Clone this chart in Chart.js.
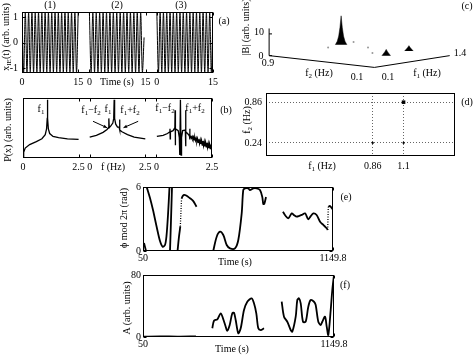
<!DOCTYPE html>
<html><head><meta charset="utf-8">
<script src="https://cdn.jsdelivr.net/npm/chart.js@4"></script>
<style>
html,body{margin:0;padding:0;background:#fff;}
#root{position:relative;width:474px;height:357px;overflow:hidden;font-family:"Liberation Serif","Times New Roman",serif;color:#000;}
canvas{position:absolute;}
.t{position:absolute;font-size:10px;line-height:1;white-space:nowrap;transform:translate(-50%,-50%);}
.v{transform:translate(-50%,-50%) rotate(-90deg);}
sub{font-size:7px;vertical-align:-2px;line-height:0;}
</style></head>
<body><div id="root"></div>
<script>
// ---------------- DATA ----------------
// (a) x_IE(t), three 15 s records (peak/trough values of the oscillation)
const aSeg1 = [1.17,-1.17,1.16,-1.17,1.17,-1.16,1.17,-1.17,1.16,-1.17,1.17,-1.17,1.16,-1.17,1.17,-1.16,1.17,-1.17,1.16,-1.17,1.17,-1.16,1.17,-1.17,1.16,-1.17,1.17,-1.17,1.16,-1.17,1.17,-1.16,1.17,-1.17,1.16];
const aSeg2 = [1.17,-1.16,1.17,-1.17,1.16,-1.17,1.17,-1.16,1.17,-1.17,1.16,-1.17,1.17,-1.17,1.16,-1.17,1.17,-1.16,1.17,-1.17,1.16,-1.17,1.17,-1.16,1.17,-1.17,1.16,-1.17,1.17,-1.17,1.16,-1.17,0.2];
const aSeg3 = [1.17,-1.17,1.17,-1.16,1.17,-1.17,1.16,-1.17,1.17,-1.17,1.16,-1.17,1.17,-1.16,1.17,-1.17,1.16,-1.17,1.17,-1.17,1.16,-1.17,1.17,-1.16,1.17,-1.17,1.16,-1.17,1.17,-1.17,1.16,-1.17,1.17,-1.16,1.17];
const aSegEnd = [15, 14.6, 15];            // record lengths (s)
const aSegStart = [0, 18, 36];             // placement of the three records on the shared axis
const aTickPos = [0, 15, 18, 33, 36, 51];
const aTickLabels = ['0', '15', '0', '15', '0', '15'];
const aYTicks = [-1, 0, 1];

// (b) power spectra (three records)
const b1Freq = [0.0,0.03,0.1,0.3,0.6,0.85,1.0,1.06,1.09,1.1,1.11,1.14,1.2,1.35,1.6,2.0,2.5];
const b1Pow  = [0.0,0.1,0.17,0.23,0.28,0.33,0.4,0.5,0.68,1.0,0.68,0.5,0.42,0.37,0.35,0.33,0.32];
const b2Freq = [0.0,0.3,0.6,0.78,0.84,0.86,0.88,0.95,1.04,1.08,1.1,1.12,1.17,1.25,1.32,1.34,1.36,1.45,1.7,2.0,2.5];
const b2Pow  = [0.36,0.39,0.44,0.49,0.52,0.68,0.52,0.55,0.6,0.68,1.0,0.68,0.58,0.53,0.53,0.66,0.48,0.45,0.4,0.36,0.33];
const b3Freq = [0.02,0.3,0.5,0.6,0.61,0.62,0.63,0.75,0.83,0.84,0.85,0.86,0.98,1.03,1.05,1.08,1.11,1.13,1.18,1.3,1.31,1.32,1.33,1.45,1.49,1.5,1.51,1.52,1.55,1.58,1.61,1.64,1.67,1.7,1.73,1.76,1.79,1.82,1.85,1.88,1.91,1.94,1.97,2.0,2.03,2.06,2.09,2.12,2.15,2.18,2.21,2.24,2.27,2.3,2.33,2.36,2.39,2.42,2.45,2.48,2.5];
const b3Pow  = [0.37,0.39,0.42,0.45,0.5,0.33,0.45,0.47,0.52,0.82,0.22,0.5,0.47,0.35,0.05,1.0,0.05,0.35,0.47,0.48,0.82,0.2,0.45,0.4,0.37,0.5,0.32,0.38,0.37,0.34,0.37,0.33,0.36,0.31,0.35,0.3,0.34,0.28,0.33,0.27,0.32,0.25,0.31,0.24,0.3,0.22,0.29,0.21,0.28,0.2,0.27,0.19,0.26,0.18,0.25,0.17,0.24,0.16,0.23,0.15,0.22];
const bSegStart = [0, 3, 6];
const bTickPos = [0, 2.5, 3, 5.5, 6, 8.5];
const bTickLabels = ['0', '2.5', '0', '2.5', '0', '2.5'];

// (c) bispectrum |B| peaks and weak points
const cPeakF1 = [1.32, 0.94, 1.40];
const cPeakF2 = [0.89, 0.38, 0.41];
const cPeakB  = [13.3, 2.9, 2.5];
const cDotF1 = [1.05, 1.40, 1.58, 1.33, 1.02];
const cDotF2 = [0.87, 0.95, 0.91, 0.69, 0.52];
const cF1Range = [0.1, 1.4];
const cF2Range = [0.1, 0.9];
const cBTicks = [0, 10];

// (d) bicoherence peak locations
const dF1 = [0.86, 1.1, 1.1];
const dF2 = [0.24, 0.24, 0.86];
const dMag = [2.5, 2.9, 13.3];
const dXTicks = [0.86, 1.1];
const dYTicks = [0.24, 0.86];

// (e) biphase, phi mod 2pi
const eT1=[55.8,67.4], eP1=[0.75,0];
const eT2=[71.4,90.5,107.9,129.3,148.4,164.0,177.3,186.0,194.7,203.4], eP2=[6.0,4.97,3.84,2.25,0.94,0.40,0.56,1.41,3.38,6.0];
const eT3=[206.3,212.1,217.9], eP3=[0,2.91,6.0];
const eT4=[250,258,266], eP4=[0,1.3,2.3];
const eDotT1=[266,273], eDotP1=[2.3,4.9];
const eT5=[273,280,287,300,320,340,360], eP5=[4.9,5.15,5.25,5.2,4.97,4.7,4.15];
const eT6=[456.9,476.6,495.7,514.8,534.5,553.6,582.5,601.6,621.3,630.5,640.4,659.5,669.3,688.4,708.1,727.2,740.5,746.3,752.1,761.9];
const eP6=[0.03,1.34,1.81,1.5,0.56,0.25,0.25,1.03,3.53,5.72,5.88,5.88,5.72,5.88,5.88,5.72,5.06,4.41,4.41,5.06];
const eT7=[860,875,891,911,925,940,955,969,988,1007,1020,1036,1055,1075,1094,1113,1119];
const eP7=[3.68,3.3,3.07,3.53,3.35,3.22,3.3,3.38,3.53,2.97,3.25,3.53,3.38,2.75,2.44,2.13,1.97];
const eDotT2=[1119,1122.5], eDotP2=[1.97,4.15];
const eT8=[1122.5,1132.4,1149.8], eP8=[4.15,4.22,3.87];
const eXTicks=[50,1149.8], eXLabels=['50','1149.8'], eYTicks=[0,6];

// (f) amplitude A
const fT1=[50,150,250,355], fA1=[0.5,0.8,0.6,0.9];
const fT2=[449.0,458.8,477.8,497.4,510.6,526.2,535.4,549.2,564.2,574.0,583.8,598.7,612.6,631.6,650.6,675.9,689.1,702.4,713.9,727.7,746.7];
const fA2=[11.2,21.0,22.8,30.6,24.1,13.3,8.1,15.5,30.6,31.3,21.9,4.8,11.2,34.8,45.5,49.9,43.5,30.6,11.2,9.0,11.2];
const fT3=[848.6,861.9,880.9,900.5,909.7,929.3,938.5,948.2,958.1,971.3,986.8,1001.8,1015.6,1034.6,1044.4,1059.4,1073.2,1082.4,1098,1107.8,1117,1130.8,1140,1149.8];
const fA3=[45.5,26.2,19.7,9.0,6.8,26.2,47.7,49.9,43.5,19.7,19.7,39.1,47.7,45.5,41.3,19.7,15.5,19.7,26.2,13.3,2.6,34.8,60.6,80];
const fXTicks=[50,1149.8], fXLabels=['50','1149.8'], fYTicks=[0,80];

// ---------------- RENDERING ----------------
const root = document.getElementById('root');
const FONT = {family:'"Liberation Serif","Times New Roman",serif', size:10};
Chart.defaults.font.family = FONT.family;
Chart.defaults.font.size = FONT.size;
Chart.defaults.color = '#000';

function mkCanvas(l,t,w,h){
  const c=document.createElement('canvas');
  c.width=w;c.height=h;c.style.left=l+'px';c.style.top=t+'px';c.style.width=w+'px';c.style.height=h+'px';
  root.appendChild(c);return c;
}
function T(x,y,html,vert){
  const s=document.createElement('span');
  s.className='t'+(vert?' v':'');
  s.style.left=x+'px';s.style.top=y+'px';s.innerHTML=html;root.appendChild(s);
}
function zip(xs,ys,off){return xs.map((x,i)=>({x:x+(off||0),y:ys[i]}));}

function axis(o){
  return {
    type:'linear', min:o.min, max:o.max, reverse:!!o.reverse, display:o.display!==false,
    afterBuildTicks:s=>{s.ticks=(o.ticks||[]).map(v=>({value:v}));},
    afterFit:s=>{ if(o.isX) s.height=o.fit; else s.width=o.fit;
      s.paddingLeft=0;s.paddingRight=0;s.paddingTop=0;s.paddingBottom=0;},
    ticks:{display:!!o.labels,autoSkip:false,maxRotation:0,minRotation:0,padding:o.pad==null?3:o.pad,color:'#000',font:FONT,
      callback:(v,i)=>o.labels?o.labels[i]:''},
    grid:o.grid||{display:false,drawTicks:false},
    border:o.border||{display:false}
  };
}
const framePlugin={
  id:'frame',
  afterDatasetsDraw(chart,args,opts){
    if(!opts||!opts.on)return;
    const ctx=chart.ctx,a=chart.chartArea;
    ctx.save();ctx.strokeStyle='#000';ctx.lineWidth=1;
    const L=opts.tick==null?3:opts.tick;
    const ln=(x1,y1,x2,y2)=>{ctx.beginPath();ctx.moveTo(x1,y1);ctx.lineTo(x2,y2);ctx.stroke();};
    const xs=chart.scales.x,ys=chart.scales.y;
    const l=Math.round(a.left)+0.5,r=Math.round(a.right)-0.5,t=Math.round(a.top)+0.5,b=Math.round(a.bottom)-0.5;
    if(L>0){
      xs.ticks.forEach(k=>{const p=Math.round(xs.getPixelForValue(k.value))+0.5;ln(p,b,p,b-L);ln(p,t,p,t+L);});
      ys.ticks.forEach(k=>{const p=Math.round(ys.getPixelForValue(k.value))+0.5;ln(l,p,l+L,p);ln(r,p,r-L,p);});
    }
    ctx.strokeRect(l,t,r-l,b-t);
    ctx.restore();
  }
};
const arrowPlugin={
  id:'arrows',
  afterDatasetsDraw(chart,args,opts){
    if(!opts||!opts.list)return;
    const ctx=chart.ctx,xs=chart.scales.x,ys=chart.scales.y;
    ctx.save();ctx.strokeStyle='#000';ctx.fillStyle='#000';ctx.lineWidth=1;
    opts.list.forEach(([f,to])=>{
      const x1=xs.getPixelForValue(f[0]),y1=ys.getPixelForValue(f[1]);
      const x2=xs.getPixelForValue(to[0]),y2=ys.getPixelForValue(to[1]);
      ctx.beginPath();ctx.moveTo(x1,y1);ctx.lineTo(x2,y2);ctx.stroke();
      const ang=Math.atan2(y2-y1,x2-x1),h=4;
      ctx.beginPath();ctx.moveTo(x2,y2);
      ctx.lineTo(x2-h*Math.cos(ang-0.45),y2-h*Math.sin(ang-0.45));
      ctx.lineTo(x2-h*Math.cos(ang+0.45),y2-h*Math.sin(ang+0.45));
      ctx.closePath();ctx.fill();
    });
    ctx.restore();
  }
};
const base={responsive:false,animation:false,devicePixelRatio:1,
  plugins:{legend:{display:false},tooltip:{enabled:false}},
  elements:{point:{radius:0}}};
function opts(extra){return Object.assign({},base,extra,{plugins:Object.assign({},base.plugins,extra.plugins||{})});}
function lineDS(data,w,extra){return Object.assign({data,borderColor:'#000',borderWidth:w,pointRadius:0,showLine:true,fill:false},extra||{});}

// ---- (a)
(function(){
  const segs=[aSeg1,aSeg2,aSeg3];
  const ds=segs.map((s,k)=>lineDS(s.map((v,i)=>({x:aSegStart[k]+i*aSegEnd[k]/(s.length-1),y:v})),1,{tension:0.35}));
  new Chart(mkCanvas(0,0,240,90),{type:'scatter',data:{datasets:ds},
    options:opts({layout:{padding:{left:0,top:12,right:27,bottom:0}},
      scales:{x:axis({min:0,max:51,ticks:aTickPos,labels:aTickLabels,fit:17,isX:true,pad:3}),
              y:axis({min:-1.2,max:1.2,ticks:aYTicks,labels:aYTicks.map(String),fit:22,pad:4})},
      plugins:{frame:{on:true}}}),plugins:[framePlugin]});
})();
T(6,37,'x<sub>IE</sub>(t) (arb. units)',true);
T(50,5,'(1)');T(117,5,'(2)');T(181,5,'(3)');T(224,21,'(a)');
T(117,82,'Time (s)');

// ---- (b)
(function(){
  const ds=[zip(b1Freq,b1Pow,bSegStart[0]),zip(b2Freq,b2Pow,bSegStart[1]),zip(b3Freq,b3Pow,bSegStart[2])].map(d=>lineDS(d,1.3));
  new Chart(mkCanvas(0,85,240,100),{type:'scatter',data:{datasets:ds},
    options:opts({layout:{padding:{left:0,top:13,right:28,bottom:0}},
      scales:{x:axis({min:0,max:8.5,ticks:bTickPos,labels:bTickLabels,fit:27,isX:true,pad:3}),
              y:axis({min:0,max:1.03,ticks:[],labels:null,fit:23})},
      plugins:{frame:{on:true},arrows:{list:[[[3.15,0.63],[3.78,0.52]],[[5.18,0.63],[4.52,0.52]]]}}}),
    plugins:[framePlugin,arrowPlugin]});
})();
T(8,130,'P(x) (arb. units)',true);
T(113,167,'f (Hz)');T(226,110,'(b)');
T(41,109,'f<sub>1</sub>');
T(91,110,'f<sub>1</sub>&minus;f<sub>2</sub>');T(108,109,'f<sub>1</sub>');T(130,110,'f<sub>1</sub>+f<sub>2</sub>');
T(165,108,'f<sub>1</sub>&minus;f<sub>2</sub>');T(195,108,'f<sub>1</sub>+f<sub>2</sub>');

// ---- (c) 3-D view, projected through a fixed view transform
(function(){
  const O={x:135,y:70}, V1={x:78,y:-13}, V2={x:-109,y:-13}, KZ=2.4;
  const P=(f1,f2,b)=>{const a=(f1-cF1Range[0])/(cF1Range[1]-cF1Range[0]);const c=(f2-cF2Range[0])/(cF2Range[1]-cF2Range[0]);
    return {x:O.x+a*V1.x+c*V2.x,y:O.y+a*V1.y+c*V2.y-KZ*b};};
  const ds=[];
  ds.push(lineDS([P(cF1Range[0],cF2Range[1],0),P(cF1Range[0],cF2Range[0],0),P(cF1Range[1],cF2Range[0],0)],1));
  ds.push(lineDS([P(cF1Range[0],cF2Range[1],0),P(cF1Range[0],cF2Range[1],12.5)],1));
  cBTicks.forEach(b=>{const p=P(cF1Range[0],cF2Range[1],b);ds.push(lineDS([p,{x:p.x+3,y:p.y}],1));});
  const bigProf=[[-6,0],[-4,0.12],[-2.5,0.3],[-1.2,0.6],[0,1],[1.2,0.6],[2.5,0.3],[4,0.12],[6,0]];
  const smallProf=[[-4.5,0],[-1.5,0.6],[0,1],[1.5,0.6],[4.5,0]];
  cPeakF1.forEach((f1,i)=>{
    const b0=P(f1,cPeakF2[i],0),h=KZ*cPeakB[i];
    const prof=cPeakB[i]>5?bigProf:smallProf;
    ds.push(lineDS(prof.map(([dx,r])=>({x:b0.x+dx,y:b0.y-r*h})),0.5,{fill:'shape',backgroundColor:'#000'}));
  });
  ds.push({data:cDotF1.map((f,i)=>P(f,cDotF2[i],0)),pointRadius:1,backgroundColor:'#999',borderWidth:0,showLine:false});
  new Chart(mkCanvas(240,0,234,85),{type:'scatter',data:{datasets:ds},
    options:opts({layout:{padding:0},clip:false,
      scales:{x:{type:'linear',min:0,max:234,display:false},y:{type:'linear',min:0,max:85,reverse:true,display:false}}})});
})();
T(246,27,'|B| (arb. units)',true);
T(259,32,'10');T(261,56,'0');T(268,63,'0.9');
T(319,73,'f<sub>2</sub> (Hz)');T(357,77,'0.1');T(388,77,'0.1');T(427,73,'f<sub>1</sub> (Hz)');T(460,53,'1.4');
T(467,6,'(c)');

// ---- (d)
(function(){
  const grid={display:true,drawTicks:false,color:'#666',lineWidth:1};
  const border={display:false,dash:[1,2]};
  const ds=[{data:zip(dF1,dF2),pointRadius:dMag.map(m=>m>5?2.5:1.1),pointStyle:dMag.map(m=>m>5?'rect':'circle'),
    backgroundColor:'#000',borderColor:'#000',borderWidth:0,showLine:false}];
  new Chart(mkCanvas(240,85,234,100),{type:'scatter',data:{datasets:ds},
    options:opts({layout:{padding:{left:0,top:8,right:19,bottom:0}},
      scales:{x:axis({min:0.03,max:1.5,ticks:dXTicks,labels:['0.86','1.1'],fit:29,isX:true,pad:4,grid,border}),
              y:axis({min:0.04,max:1.0,ticks:dYTicks,labels:['0.24','0.86'],fit:26,pad:4,grid,border})},
      plugins:{frame:{on:true,tick:0}}}),plugins:[framePlugin]});
})();
T(247,120,'f<sub>2</sub> (Hz)',true);
T(322,166,'f<sub>1</sub> (Hz)');T(467,102,'(d)');

// ---- (e)
(function(){
  const solid=[[eT1,eP1],[eT2,eP2],[eT3,eP3],[eT4,eP4],[eT5,eP5],[eT6,eP6],[eT7,eP7],[eT8,eP8]];
  const ds=solid.map(([t,p])=>lineDS(zip(t,p),1.8,{tension:0.3}));
  [[eDotT1,eDotP1],[eDotT2,eDotP2]].forEach(([t,p])=>ds.push(lineDS(zip(t,p),1.3,{borderDash:[1,1.5]})));
  new Chart(mkCanvas(100,180,260,90),{type:'scatter',data:{datasets:ds},
    options:opts({layout:{padding:{left:0,top:7,right:27,bottom:0}},
      scales:{x:axis({min:50,max:1149.8,ticks:eXTicks,labels:eXLabels,fit:19,isX:true,pad:1}),
              y:axis({min:0,max:6,ticks:eYTicks,labels:eYTicks.map(String),fit:43,pad:2})},
      plugins:{frame:{on:true}}}),plugins:[framePlugin]});
})();
T(124,218,'&#981; mod 2&pi; (rad)',true);
T(235,262,'Time (s)');T(346,197,'(e)');

// ---- (f)
(function(){
  const ds=[[fT1,fA1],[fT2,fA2],[fT3,fA3]].map(([t,a])=>lineDS(zip(t,a),1.8,{tension:0.3}));
  new Chart(mkCanvas(100,265,260,92),{type:'scatter',data:{datasets:ds},
    options:opts({layout:{padding:{left:0,top:10,right:26,bottom:0}},
      scales:{x:axis({min:50,max:1149.8,ticks:fXTicks,labels:fXLabels,fit:20,isX:true,pad:1}),
              y:axis({min:0,max:80,ticks:fYTicks,labels:fYTicks.map(String),fit:43,pad:2})},
      plugins:{frame:{on:true}}}),plugins:[framePlugin]});
})();
T(127,308,'A (arb. units)',true);
T(232,349,'Time (s)');T(345,285,'(f)');
</script>
</body></html>
